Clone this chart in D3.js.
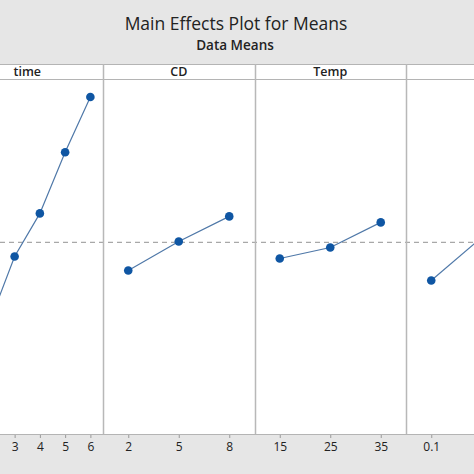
<!DOCTYPE html>
<html>
<head>
<meta charset="utf-8">
<script src="https://cdn.jsdelivr.net/npm/d3@7"></script>
<style>
  html, body { margin: 0; padding: 0; background: #fff; }
  svg { display: block; font-family: "Open Sans", "Noto Sans", sans-serif; }
</style>
</head>
<body>
<div id="chart"></div>
<script>
// ---- data (y units are arbitrary means) ----
const factors = ["time", "CD", "Temp", "F4"];
const factorLabels = ["time", "CD", "Temp", ""];
const timeLevels = ["1", "2", "3", "4", "5", "6"];
const timeMeans  = [null, 12.0, 18.6, 22.9, 29.0, 34.5];
const cdLevels   = ["2", "5", "8"];
const cdMeans    = [17.2, 20.1, 22.6];
const tempLevels = ["15", "25", "35"];
const tempMeans  = [18.4, 19.5, 22.0];
const f4Levels   = ["0.1", "0.2", "0.3"];
const f4Means    = [16.2, 20.5, null];
const grandMean  = 20.0;
const yDomain    = [0.9, 36.2];

const levelSets = [timeLevels, cdLevels, tempLevels, f4Levels];
const meanSets  = [timeMeans, cdMeans, tempMeans, f4Means];

const W = 474, H = 474;
const plotTop = 80, plotBottom = 434;
const headerTop = 64;

const svg = d3.select("#chart").append("svg")
  .attr("width", W).attr("height", H);

// background bands
svg.append("rect").attr("x", 0).attr("y", 0).attr("width", W).attr("height", headerTop)
  .attr("fill", "#e6e6e6");
svg.append("rect").attr("x", 0).attr("y", plotBottom).attr("width", W).attr("height", H - plotBottom)
  .attr("fill", "#e6e6e6");

// titles
svg.append("text").attr("x", 236).attr("y", 30).attr("text-anchor", "middle")
  .attr("font-size", 17.5).attr("font-weight", 500).attr("fill", "#222").text("Main Effects Plot for Means");
svg.append("text").attr("x", 235).attr("y", 50).attr("text-anchor", "middle")
  .attr("font-size", 13.5).attr("font-weight", 600).attr("fill", "#222").text("Data Means");

// panels
const panelX = d3.scaleBand().domain(factors).range([-48.5, -48.5 + 4 * 151.5]);
const y = d3.scaleLinear().domain(yDomain).range([plotBottom, plotTop]);

// grand mean reference line
svg.append("line")
  .attr("x1", 0).attr("x2", W)
  .attr("y1", y(grandMean)).attr("y2", y(grandMean))
  .attr("stroke", "#a8a8a8").attr("stroke-width", 1.2)
  .attr("stroke-dasharray", "5,4");

// header row lines
svg.append("line").attr("x1", 0).attr("x2", W).attr("y1", headerTop + 0.5).attr("y2", headerTop + 0.5)
  .attr("stroke", "#b4b4b4");
svg.append("line").attr("x1", 0).attr("x2", W).attr("y1", plotTop - 0.5).attr("y2", plotTop - 0.5)
  .attr("stroke", "#b4b4b4");

factors.forEach((f, i) => {
  const x0 = panelX(f);
  const bw = panelX.bandwidth();
  const x = d3.scalePoint().domain(levelSets[i]).range([x0, x0 + bw]).padding(0.5);

  // header label
  svg.append("text").attr("x", x0 + bw / 2).attr("y", plotTop - 4)
    .attr("text-anchor", "middle").attr("font-size", 12.5).attr("font-weight", 600)
    .attr("fill", "#222").text(factorLabels[i]);

  // panel separator
  if (i > 0) {
    svg.append("line").attr("x1", Math.round(x0) + 0.5).attr("x2", Math.round(x0) + 0.5)
      .attr("y1", headerTop).attr("y2", plotBottom)
      .attr("stroke", "#b8b8b8").attr("stroke-width", 1.5);
  }

  // x axis (only levels whose tick falls inside the visible window)
  const visible = levelSets[i].filter(l => x(l) > 6 && x(l) < W - 6);
  const ax = svg.append("g").attr("transform", `translate(0,${plotBottom})`)
    .call(d3.axisBottom(x).tickValues(visible).tickSize(4).tickPadding(4));
  ax.select(".domain").remove();
  ax.selectAll(".tick line").attr("stroke", "#9a9a9a");
  ax.selectAll(".tick text").attr("font-size", 12).attr("font-weight", 500).attr("fill", "#222")
    .attr("font-family", "'Open Sans', sans-serif");

  const pts = levelSets[i].map((l, j) => ({ l, v: meanSets[i][j] }));
  const line = d3.line().defined(d => d.v != null).x(d => x(d.l)).y(d => y(d.v));
  svg.append("path").datum(pts).attr("d", line)
    .attr("fill", "none").attr("stroke", "#4f78a8").attr("stroke-width", 1.2);
  svg.selectAll(null).data(pts.filter(d => d.v != null)).enter().append("circle")
    .attr("cx", d => x(d.l)).attr("cy", d => y(d.v)).attr("r", 4.3)
    .attr("fill", "#0f56a3");
});

// plot bottom border
svg.append("line").attr("x1", 0).attr("x2", W).attr("y1", plotBottom + 0.5).attr("y2", plotBottom + 0.5)
  .attr("stroke", "#b4b4b4");
</script>
</body>
</html>
